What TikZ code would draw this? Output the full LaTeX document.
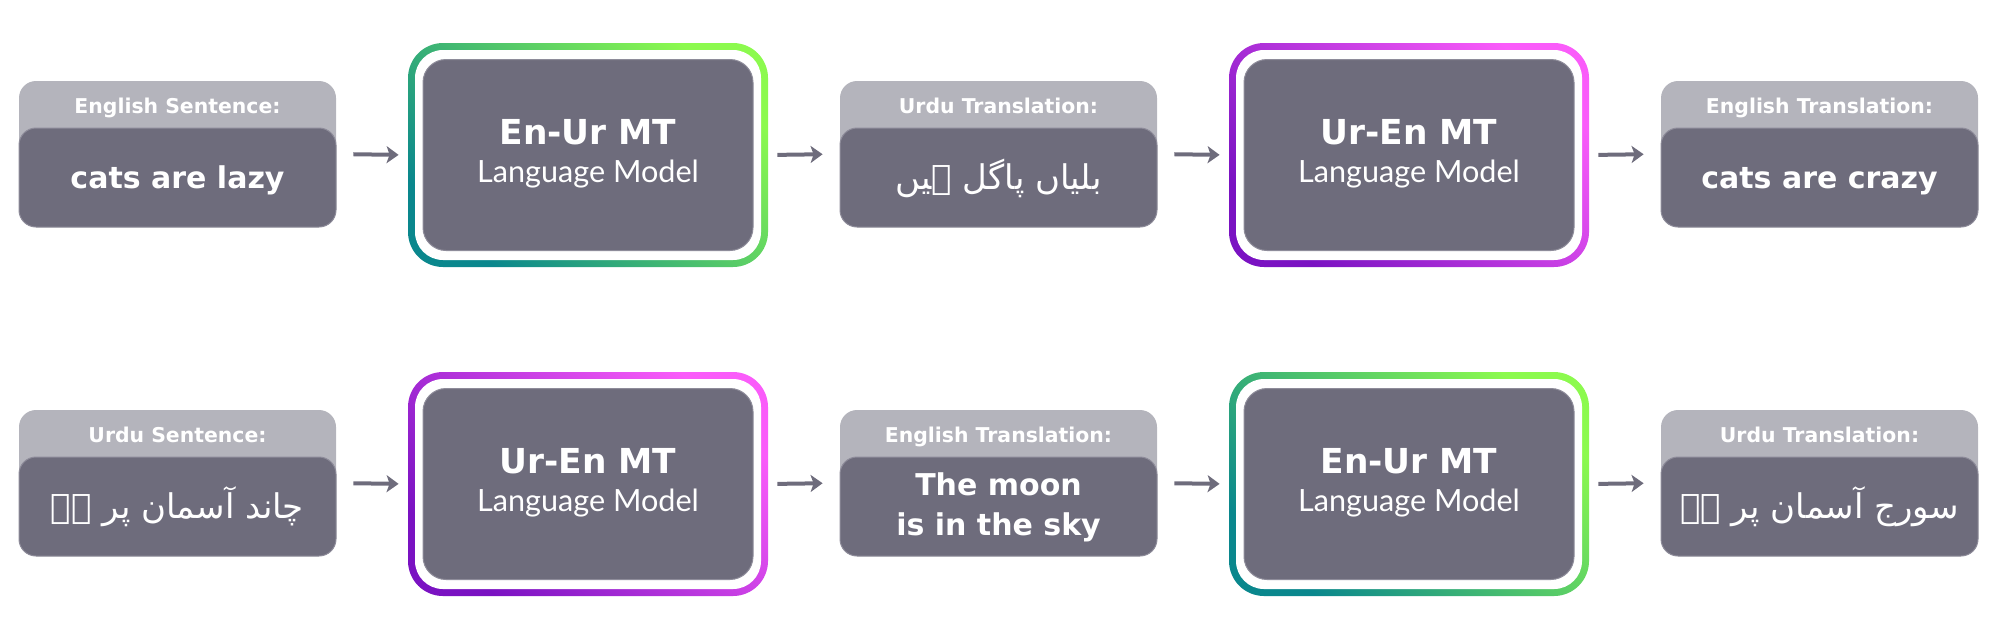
\documentclass[tikz,border=0pt]{standalone}
\usepackage{fontspec}
\setmainfont{Lato}
\newfontfamily\dvsans{DejaVu Sans}
\newfontfamily\arabicfont[Script=Arabic]{DejaVu Sans}
\TeXXeTstate=1
\usetikzlibrary{arrows.meta,calc}
\definecolor{boxdark}{HTML}{6E6C7C}
\definecolor{boxlight}{HTML}{B4B4BC}
\definecolor{boxedge}{HTML}{8E8C9A}
\definecolor{gA}{HTML}{0A878D}
\definecolor{gB}{HTML}{8CFA4E}
\definecolor{pA}{HTML}{7A12C2}
\definecolor{pB}{HTML}{FA5CFA}
\begin{document}
\begin{tikzpicture}[x=0.5pt,y=-0.5pt,
  inbox/.style={rectangle, rounded corners=8.5pt, fill=boxlight, minimum width=158.5pt, minimum height=73pt, inner sep=0pt},
  indark/.style={rectangle, rounded corners=8.5pt, fill=boxdark, draw=boxedge, line width=0.5pt, minimum width=158.5pt, minimum height=49.5pt, inner sep=0pt},
  hdr/.style={text=white, font=\dvsans\bfseries\fontsize{10.2}{12}\selectfont, inner sep=0pt, anchor=base},
  bigtxt/.style={text=white, font=\dvsans\bfseries\fontsize{15}{20}\selectfont, align=center, inner sep=0pt, anchor=base},
  urtxt/.style={text=white, font=\arabicfont\fontsize{17}{20}\selectfont, inner sep=0pt, anchor=base},
  outerbox/.style={rectangle, rounded corners=17.5pt, minimum width=180pt, minimum height=112pt, inner sep=0pt},
  greenring/.style={outerbox, top color=gB, bottom color=gA, shading angle=-45},
  purplering/.style={outerbox, top color=pB, bottom color=pA, shading angle=-45},
  whitegap/.style={rectangle, rounded corners=14pt, fill=white, minimum width=173pt, minimum height=105pt, inner sep=0pt},
  modelbox/.style={rectangle, rounded corners=11.5pt, fill=boxdark, draw=boxedge, line width=0.5pt, minimum width=165pt, minimum height=95.5pt, inner sep=0pt},
  mtitle/.style={text=white, font=\dvsans\bfseries\fontsize{17.2}{20}\selectfont, inner sep=0pt, anchor=base},
  msub/.style={text=white, font=\fontsize{15.3}{18}\selectfont, inner sep=0pt, anchor=base},
  flow/.style={draw=boxdark, line width=2pt, -{Stealth[length=6pt,width=8.5pt,inset=1.5pt]}},
  pre/.style={flow, shorten <=8.5pt, shorten >=4.5pt},
  post/.style={flow, shorten <=4.5pt, shorten >=8.5pt}
]
\useasboundingbox (0,0) rectangle (2000,622);

% ---------- Row 1 ----------
\node[inbox] (a1) at (177.5,154) {};
\node[indark] (a1d) at (177.5,177.5) {};
\node[hdr] (a1h) at (177.5,113) {English Sentence:};
\node[bigtxt] (a1t) at (177.5,188) {cats are lazy};

\node[greenring] (m1) at (588,155) {};
\node[whitegap] (m1w) at (588,155) {};
\node[modelbox] (m1d) at (588,155) {};
\node[mtitle] (m1t) at (588,144) {En-Ur MT};
\node[msub] (m1s) at (588,182) {Language Model};

\node[inbox] (b1) at (998.5,154) {};
\node[indark] (b1d) at (998.5,177.5) {};
\node[hdr] (b1h) at (998.5,113) {Urdu Translation:};
\node[urtxt] (b1t) at (998.5,189) {\beginR بلیاں پاگل ہیں\endR};

\node[purplering] (m2) at (1409,155) {};
\node[whitegap] (m2w) at (1409,155) {};
\node[modelbox] (m2d) at (1409,155) {};
\node[mtitle] (m2t) at (1409,144) {Ur-En MT};
\node[msub] (m2s) at (1409,182) {Language Model};

\node[inbox] (c1) at (1819.5,154) {};
\node[indark] (c1d) at (1819.5,177.5) {};
\node[hdr] (c1h) at (1819.5,113) {English Translation:};
\node[bigtxt] (c1t) at (1819.5,188) {cats are crazy};

\draw[pre] (a1.east) -- (m1.west);
\draw[post] (m1.east) -- (b1.west);
\draw[pre] (b1.east) -- (m2.west);
\draw[post] (m2.east) -- (c1.west);

% ---------- Row 2 ----------
\node[inbox] (a2) at (177.5,483) {};
\node[indark] (a2d) at (177.5,506.5) {};
\node[hdr] (a2h) at (177.5,442) {Urdu Sentence:};
\node[urtxt] (a2t) at (177.5,518) {\beginR چاند آسمان پر ہے\endR};

\node[purplering] (n1) at (588,484) {};
\node[whitegap] (n1w) at (588,484) {};
\node[modelbox] (n1d) at (588,484) {};
\node[mtitle] (n1t) at (588,473) {Ur-En MT};
\node[msub] (n1s) at (588,511) {Language Model};

\node[inbox] (b2) at (998.5,483) {};
\node[indark] (b2d) at (998.5,506.5) {};
\node[hdr] (b2h) at (998.5,442) {English Translation:};
\node[bigtxt] (b2t) at (998.5,535) {The moon\\is in the sky};

\node[greenring] (n2) at (1409,484) {};
\node[whitegap] (n2w) at (1409,484) {};
\node[modelbox] (n2d) at (1409,484) {};
\node[mtitle] (n2t) at (1409,473) {En-Ur MT};
\node[msub] (n2s) at (1409,511) {Language Model};

\node[inbox] (c2) at (1819.5,483) {};
\node[indark] (c2d) at (1819.5,506.5) {};
\node[hdr] (c2h) at (1819.5,442) {Urdu Translation:};
\node[urtxt] (c2t) at (1819.5,518) {\beginR سورج آسمان پر ہے\endR};

\draw[pre] (a2.east) -- (n1.west);
\draw[post] (n1.east) -- (b2.west);
\draw[pre] (b2.east) -- (n2.west);
\draw[post] (n2.east) -- (c2.west);
\end{tikzpicture}
\end{document}
